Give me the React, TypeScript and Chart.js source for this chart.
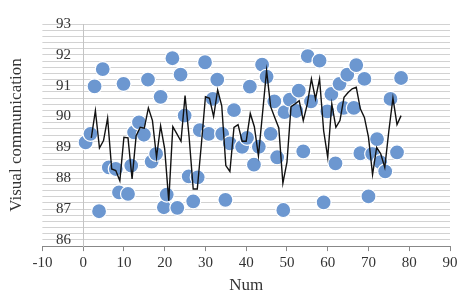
import React, { useEffect, useRef } from 'react';
import { Chart, registerables } from 'chart.js';

Chart.register(...registerables);

// Scatter series (blue circles)
const scatterX = [0.6, 1.8, 2.8, 3.9, 4.8, 6.3, 8.0, 8.8, 9.9, 11.0, 11.8, 12.5, 13.7, 14.9, 15.9, 16.8, 17.9, 19.0, 19.8, 20.5, 21.9, 23.1, 23.9, 24.9, 25.9, 27.0, 28.1, 28.6, 29.9, 30.8, 31.8, 32.9, 34.1, 34.9, 36.0, 37.0, 39.0, 40.2, 40.9, 41.9, 43.1, 43.9, 45.0, 46.0, 46.9, 47.6, 49.1, 49.4, 50.7, 52.3, 52.9, 54.0, 55.1, 55.9, 58.0, 59.0, 59.9, 60.9, 61.9, 62.9, 63.9, 64.8, 66.4, 67.0, 68.0, 69.0, 70.0, 70.9, 72.1, 72.9, 74.1, 75.4, 77.0, 78.0];
const scatterY = [89.16, 89.44, 90.98, 86.93, 91.54, 88.35, 88.30, 87.54, 91.06, 87.49, 88.41, 89.49, 89.81, 89.41, 91.20, 88.54, 88.79, 90.64, 87.06, 87.47, 91.89, 87.04, 91.36, 90.03, 88.06, 87.25, 88.03, 89.56, 91.76, 89.44, 90.57, 91.20, 89.44, 87.30, 89.13, 90.21, 89.02, 89.31, 90.97, 88.44, 89.02, 91.68, 91.29, 89.44, 90.49, 88.68, 86.97, 90.14, 90.55, 90.18, 90.84, 88.87, 91.96, 90.49, 91.81, 87.22, 90.17, 90.73, 88.48, 91.06, 90.28, 91.36, 90.28, 91.67, 88.81, 91.22, 87.41, 88.79, 89.27, 88.52, 88.22, 90.57, 88.84, 91.25];

// Line series (black)
const lineX = [2, 3, 4, 5, 6, 7, 8, 9, 10, 11, 12, 13, 14, 15, 16, 17, 18, 19, 20, 21, 22, 23, 24, 25, 26, 27, 28, 29, 30, 31, 32, 33, 34, 35, 36, 37, 38, 39, 40, 41, 42, 43, 44, 45, 46, 47, 48, 49, 50, 51, 52, 53, 54, 55, 56, 57, 58, 59, 60, 61, 62, 63, 64, 65, 66, 67, 68, 69, 70, 71, 72, 73, 74, 75, 76, 77, 78];
const lineY = [89.31, 90.19, 88.98, 89.22, 89.95, 88.30, 88.25, 87.92, 89.33, 89.31, 87.98, 89.38, 89.65, 89.62, 90.28, 89.87, 88.68, 89.70, 88.95, 87.27, 89.67, 89.44, 89.20, 90.68, 89.33, 87.65, 87.65, 89.10, 90.64, 90.59, 90.00, 90.86, 90.35, 88.41, 88.22, 89.65, 89.74, 89.20, 89.20, 90.10, 89.67, 88.73, 90.10, 91.49, 90.32, 89.97, 89.63, 87.84, 88.52, 90.32, 90.41, 90.51, 89.87, 90.41, 91.22, 90.57, 91.22, 89.54, 88.68, 90.41, 89.65, 89.87, 90.62, 90.78, 90.90, 90.95, 90.25, 89.97, 89.33, 88.12, 89.00, 88.79, 88.35, 89.54, 90.60, 89.74, 90.03];

const xMin = -10;
const xMax = 90;
const xStep = 10;
const yMin = 85.8;
const yMax = 93;
const yGridStep = 0.2;
const yAxisAt = 0;      // vertical axis crosses at x = 0
const yLabelsAt = -3;   // tick labels sit just left of the axis

const xTitle = 'Num';
const yTitle = 'Visual communication';

const FONT = "'Liberation Serif', 'DejaVu Serif', serif";

const intLabel = (v: any) => {
  const n = Number(v);
  return Math.abs(n - Math.round(n)) < 1e-6 ? String(Math.round(n)) : '';
};

export default function App() {
  const canvasRef = useRef<HTMLCanvasElement | null>(null);

  useEffect(() => {
    const canvas = canvasRef.current;
    if (!canvas) return;
    const chart = new Chart(canvas, {
      type: 'scatter',
      data: {
        datasets: [
          {
            type: 'line',
            data: lineX.map((x, i) => ({ x, y: lineY[i] })),
            borderColor: '#111111',
            borderWidth: 1.4,
            pointRadius: 0,
            fill: false,
            tension: 0,
            order: 0,
          } as any,
          {
            type: 'scatter',
            data: scatterX.map((x, i) => ({ x, y: scatterY[i] })),
            backgroundColor: 'rgb(108,151,208)',
            borderColor: '#ffffff',
            borderWidth: 1.2,
            pointRadius: 7.5,
            order: 1,
          },
        ],
      },
      options: {
        responsive: true,
        maintainAspectRatio: false,
        animation: false,
        layout: { padding: { left: 6, right: 24, top: 24, bottom: 6.5 } },
        plugins: {
          legend: { display: false },
          tooltip: { enabled: false },
        },
        scales: {
          x: {
            type: 'linear',
            position: 'bottom',
            min: xMin,
            max: xMax,
            ticks: {
              stepSize: xStep,
              color: '#333333',
              font: { family: FONT, size: 15 },
              padding: 3,
            },
            grid: {
              drawOnChartArea: false,
              drawTicks: true,
              tickLength: 5,
              tickColor: '#888888',
            },
            border: { color: '#888888', width: 1 },
            title: {
              display: true,
              text: xTitle,
              color: '#333333',
              font: { family: FONT, size: 17 },
              padding: { top: 0, bottom: 2 },
            },
          },
          y: {
            type: 'linear',
            position: { x: yAxisAt } as any,
            min: yMin,
            max: yMax,
            ticks: {
              stepSize: yGridStep,
              autoSkip: false,
              display: false,
            },
            grid: {
              color: '#d2d2d2',
              lineWidth: 1,
              drawTicks: false,
            },
            border: { color: '#c4c4c4', width: 1 },
          },
          yL: {
            type: 'linear',
            position: { x: yLabelsAt } as any,
            min: yMin,
            max: yMax,
            ticks: {
              stepSize: yGridStep,
              autoSkip: false,
              color: '#333333',
              font: { family: FONT, size: 15 },
              padding: 0,
              callback: intLabel,
            },
            grid: { display: false, drawTicks: false },
            border: { display: false },
          },
          yT: {
            type: 'linear',
            position: 'left',
            min: yMin,
            max: yMax,
            grid: { display: false, drawTicks: false },
            border: { display: false },
            ticks: { display: false },
            title: {
              display: true,
              text: yTitle,
              color: '#333333',
              font: { family: FONT, size: 17 },
              padding: { top: 0, bottom: 16 },
            },
          },
        },
      } as any,
    });
    return () => chart.destroy();
  }, []);

  return (
    <div style={{ position: 'absolute', left: 0, top: 0, width: 474, height: 304 }}>
      <canvas ref={canvasRef} />
    </div>
  );
}
